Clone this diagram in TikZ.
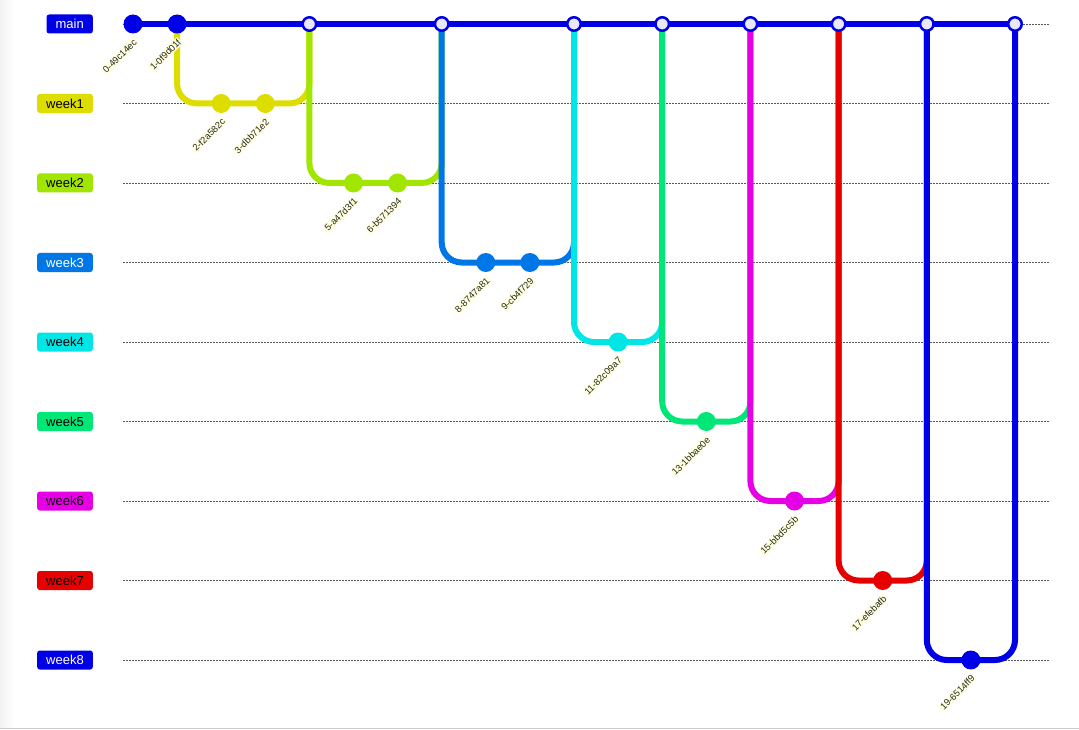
\documentclass[tikz,border=0pt]{standalone}
\usepackage{fontspec}
\setmainfont{Liberation Sans}
\pgfdeclarelayer{back}
\pgfdeclarelayer{lines}
\pgfsetlayers{back,lines,main}
\definecolor{cmain}{RGB}{0,0,230}
\definecolor{cw1}{RGB}{221,221,0}
\definecolor{cw2}{RGB}{160,230,0}
\definecolor{cw3}{RGB}{0,119,230}
\definecolor{cw4}{RGB}{0,230,230}
\definecolor{cw5}{RGB}{0,230,119}
\definecolor{cw6}{RGB}{230,0,230}
\definecolor{cw7}{RGB}{230,0,0}
\definecolor{cw8}{RGB}{0,0,230}
\definecolor{mergefill}{RGB}{232,232,248}
\definecolor{labelbg}{RGB}{255,255,222}
\begin{document}
\begin{tikzpicture}[x=1pt,y=-1pt,
  commit/.style={circle, fill=#1, minimum size=19pt, inner sep=0pt},
  mergec/.style={circle, fill=mergefill, draw=cmain, line width=2.5pt, minimum size=13.5pt, inner sep=0pt},
  gline/.style={line width=6pt, draw=#1, rounded corners=20pt},
  blabel/.style={rounded corners=2.5pt, fill=#1, minimum height=19pt, inner xsep=9pt, inner ysep=0pt, font=\fontsize{13}{13}\selectfont, anchor=east},
  clabel/.style={fill=labelbg, text=black!85, inner sep=1pt, font=\fontsize{9.3}{9.3}\selectfont, rotate=45, anchor=east},
  rowline/.style={dash pattern=on 1.5pt off 1.5pt, line width=0.7pt, draw=black!65}]
\useasboundingbox (0,0) rectangle (1079,730);
\begin{pgfonlayer}{back}
\fill[white] (0,0) rectangle (1079,730);
\shade[left color=black!5, right color=white] (0,0) rectangle (14,728);
\draw[black!20, line width=1.5pt] (0,728.5) -- (1079,728.5);
\foreach \y in {24,103.5,183,262.5,342,421.5,501,580.5,660}
  \draw[rowline] (123,\y) -- (1050,\y);
\end{pgfonlayer}

% branch labels
\node[blabel=cmain, text=white] (lmain) at (93,24) {main};
\node[blabel=cw1] (lw1) at (93,103.5) {week1};
\node[blabel=cw2] (lw2) at (93,183) {week2};
\node[blabel=cw3, text=white] (lw3) at (93,262.5) {week3};
\node[blabel=cw4] (lw4) at (93,342) {week4};
\node[blabel=cw5] (lw5) at (93,421.5) {week5};
\node[blabel=cw6] (lw6) at (93,501) {week6};
\node[blabel=cw7] (lw7) at (93,580.5) {week7};
\node[blabel=cw8, text=white] (lw8) at (93,660) {week8};

% commits
\node[commit=cmain] (c0) at (133,24) {};
\node[commit=cmain] (c1) at (177.1,24) {};
\node[commit=cw1] (c2) at (221.2,103.5) {};
\node[commit=cw1] (c3) at (265.3,103.5) {};
\node[mergec] (c4) at (309.4,24) {};
\node[commit=cw2] (c5) at (353.5,183) {};
\node[commit=cw2] (c6) at (397.6,183) {};
\node[mergec] (c7) at (441.7,24) {};
\node[commit=cw3] (c8) at (485.8,262.5) {};
\node[commit=cw3] (c9) at (529.9,262.5) {};
\node[mergec] (c10) at (574,24) {};
\node[commit=cw4] (c11) at (618.1,342) {};
\node[mergec] (c12) at (662.2,24) {};
\node[commit=cw5] (c13) at (706.3,421.5) {};
\node[mergec] (c14) at (750.4,24) {};
\node[commit=cw6] (c15) at (794.5,501) {};
\node[mergec] (c16) at (838.6,24) {};
\node[commit=cw7] (c17) at (882.7,580.5) {};
\node[mergec] (c18) at (926.8,24) {};
\node[commit=cw8] (c19) at (970.9,660) {};
\node[mergec] (c20) at (1015,24) {};

% connectors
\begin{pgfonlayer}{lines}
\draw[gline=cmain] (c0.center) -- (c20.center);
\draw[gline=cw1] (c1.center) |- (c2.center) -- (c3.center) -| (c4.center);
\draw[gline=cw2] (c4.center) |- (c5.center) -- (c6.center) -| (c7.center);
\draw[gline=cw3] (c7.center) |- (c8.center) -- (c9.center) -| (c10.center);
\draw[gline=cw4] (c10.center) |- (c11.center) -| (c12.center);
\draw[gline=cw5] (c12.center) |- (c13.center) -| (c14.center);
\draw[gline=cw6] (c14.center) |- (c15.center) -| (c16.center);
\draw[gline=cw7] (c16.center) |- (c17.center) -| (c18.center);
\draw[gline=cw8] (c18.center) |- (c19.center) -| (c20.center);
\end{pgfonlayer}

% commit labels
\node[clabel] (t0) at ([shift={(3,16)}]c0.center) {0-49c14ec};
\node[clabel] (t1) at ([shift={(3,16)}]c1.center) {1-0f9d01f};
\node[clabel] (t2) at ([shift={(3,16)}]c2.center) {2-f2a582c};
\node[clabel] (t3) at ([shift={(3,16)}]c3.center) {3-dbb71e2};
\node[clabel] (t5) at ([shift={(3,16)}]c5.center) {5-a47d3f1};
\node[clabel] (t6) at ([shift={(3,16)}]c6.center) {6-b571394};
\node[clabel] (t8) at ([shift={(3,16)}]c8.center) {8-8747a81};
\node[clabel] (t9) at ([shift={(3,16)}]c9.center) {9-cb4f729};
\node[clabel] (t11) at ([shift={(3,16)}]c11.center) {11-82c09a7};
\node[clabel] (t13) at ([shift={(3,16)}]c13.center) {13-1bbae0e};
\node[clabel] (t15) at ([shift={(3,16)}]c15.center) {15-bbd5c5b};
\node[clabel] (t17) at ([shift={(3,16)}]c17.center) {17-efebafb};
\node[clabel] (t19) at ([shift={(3,16)}]c19.center) {19-6514ff9};
\end{tikzpicture}
\end{document}
